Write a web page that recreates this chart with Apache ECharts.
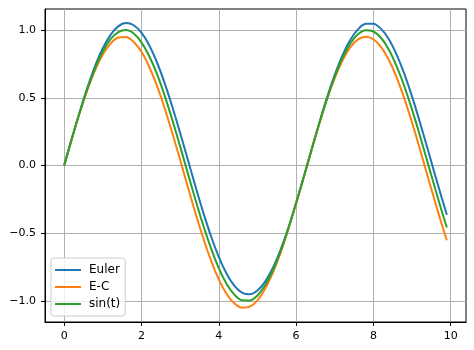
<!DOCTYPE html>
<html>
<head>
<meta charset="utf-8">
<script src="https://cdn.jsdelivr.net/npm/echarts@6/dist/echarts.min.js"></script>
<style>
  html, body { margin: 0; padding: 0; background: #fff; }
  #chart { width: 474px; height: 350px; }
</style>
</head>
<body>
<div id="chart"></div>
<script>
// time steps
const tValues = [0, 0.2, 0.4, 0.6, 0.8, 1.0, 1.2, 1.4, 1.6, 1.8, 2.0, 2.2, 2.4, 2.6, 2.8, 3.0, 3.2, 3.4, 3.6, 3.8,
  4.0, 4.2, 4.4, 4.6, 4.8, 5.0, 5.2, 5.4, 5.6, 5.8, 6.0, 6.2, 6.4, 6.6, 6.8, 7.0, 7.2, 7.4, 7.6, 7.8,
  8.0, 8.2, 8.4, 8.6, 8.8, 9.0, 9.2, 9.4, 9.6, 9.8, 9.9];

const eulerValues = [0, 0.200, 0.393, 0.573, 0.733, 0.865, 0.964, 1.027, 1.051, 1.035, 0.980, 0.888, 0.762, 0.608, 0.432, 0.241, 0.042, -0.157, -0.348, -0.522,
  -0.674, -0.797, -0.886, -0.938, -0.951, -0.923, -0.857, -0.755, -0.620, -0.459, -0.277, -0.083, 0.117, 0.314, 0.501, 0.669, 0.813, 0.927, 1.005, 1.046,
  1.047, 1.008, 0.931, 0.818, 0.676, 0.508, 0.322, 0.125, -0.075, -0.270, -0.363];

const ecValues = [0, 0.198, 0.386, 0.556, 0.702, 0.819, 0.900, 0.944, 0.948, 0.912, 0.839, 0.729, 0.589, 0.423, 0.238, 0.042, -0.158, -0.354, -0.537, -0.702,
  -0.840, -0.946, -1.017, -1.049, -1.042, -0.995, -0.910, -0.791, -0.643, -0.470, -0.281, -0.083, 0.116, 0.309, 0.488, 0.645, 0.774, 0.871, 0.931, 0.951,
  0.932, 0.874, 0.779, 0.651, 0.494, 0.317, 0.124, -0.075, -0.273, -0.463, -0.552];

const sinValues = [0, 0.199, 0.389, 0.565, 0.717, 0.841, 0.932, 0.985, 1.000, 0.974, 0.909, 0.808, 0.676, 0.516, 0.335, 0.141, -0.058, -0.256, -0.443, -0.612,
  -0.757, -0.872, -0.952, -0.994, -0.996, -0.959, -0.884, -0.773, -0.631, -0.465, -0.279, -0.083, 0.117, 0.312, 0.494, 0.657, 0.794, 0.899, 0.968, 0.999,
  0.989, 0.941, 0.855, 0.734, 0.585, 0.412, 0.223, 0.025, -0.174, -0.367, -0.458];

const xTicks = [0, 2, 4, 6, 8, 10];
const yTicks = [-1.0, -0.5, 0.0, 0.5, 1.0];

const seriesNames = ["Euler", "E-C", "sin(t)"];
const seriesColors = ["#1f77b4", "#ff7f0e", "#2ca02c"];

function pairs(ys) {
  return tValues.map((t, i) => [t, ys[i]]);
}

function fmtY(v) {
  return v.toFixed(1).replace("-", "\u2212");
}

let myECharts = echarts.init(document.getElementById("chart"), null, { renderer: "canvas" });

const font = "DejaVu Sans";

let option = {
  animation: false,
  backgroundColor: "#fff",
  grid: {
    left: 45,
    right: 8,
    top: 9,
    bottom: 28,
    show: true,
    borderColor: "#000",
    borderWidth: 1,
    backgroundColor: "transparent"
  },
  legend: {
    orient: "vertical",
    left: 51,
    top: 258,
    icon: "rect",
    itemWidth: 26,
    itemHeight: 2,
    itemGap: 3,
    padding: [5, 5, 5, 4],
    backgroundColor: "rgba(255,255,255,0.8)",
    borderColor: "#cccccc",
    borderWidth: 1,
    borderRadius: 3,
    textStyle: { fontFamily: font, fontSize: 12, color: "#000", lineHeight: 14, padding: [0, 0, 0, 3] },
    data: seriesNames
  },
  xAxis: {
    type: "value",
    min: -0.495,
    max: 10.395,
    axisLine: { show: true, onZero: false, lineStyle: { color: "#000", width: 1 } },
    axisTick: { show: true, customValues: xTicks, length: 4, lineStyle: { color: "#000" } },
    axisLabel: {
      customValues: xTicks,
      margin: 9,
      fontFamily: font, fontSize: 11, color: "#000",
      formatter: v => String(v)
    },
    splitLine: { show: true, lineStyle: { color: "#b0b0b0", width: 1 } }
  },
  yAxis: {
    type: "value",
    min: -1.155,
    max: 1.155,
    axisLine: { show: true, onZero: false, lineStyle: { color: "#000", width: 1 } },
    axisTick: { show: true, customValues: yTicks, length: 4, lineStyle: { color: "#000" } },
    axisLabel: {
      customValues: yTicks,
      margin: 9,
      fontFamily: font, fontSize: 11, color: "#000",
      formatter: v => fmtY(v)
    },
    splitLine: { show: true, lineStyle: { color: "#b0b0b0", width: 1 } }
  },
  series: [eulerValues, ecValues, sinValues].map((ys, i) => ({
    name: seriesNames[i],
    type: "line",
    data: pairs(ys),
    showSymbol: false,
    symbol: "none",
    smooth: 0.3,
    color: seriesColors[i],
    lineStyle: { width: 2, color: seriesColors[i] },
    z: 2 + i
  }))
};

myECharts.setOption(option);
</script>
</body>
</html>
